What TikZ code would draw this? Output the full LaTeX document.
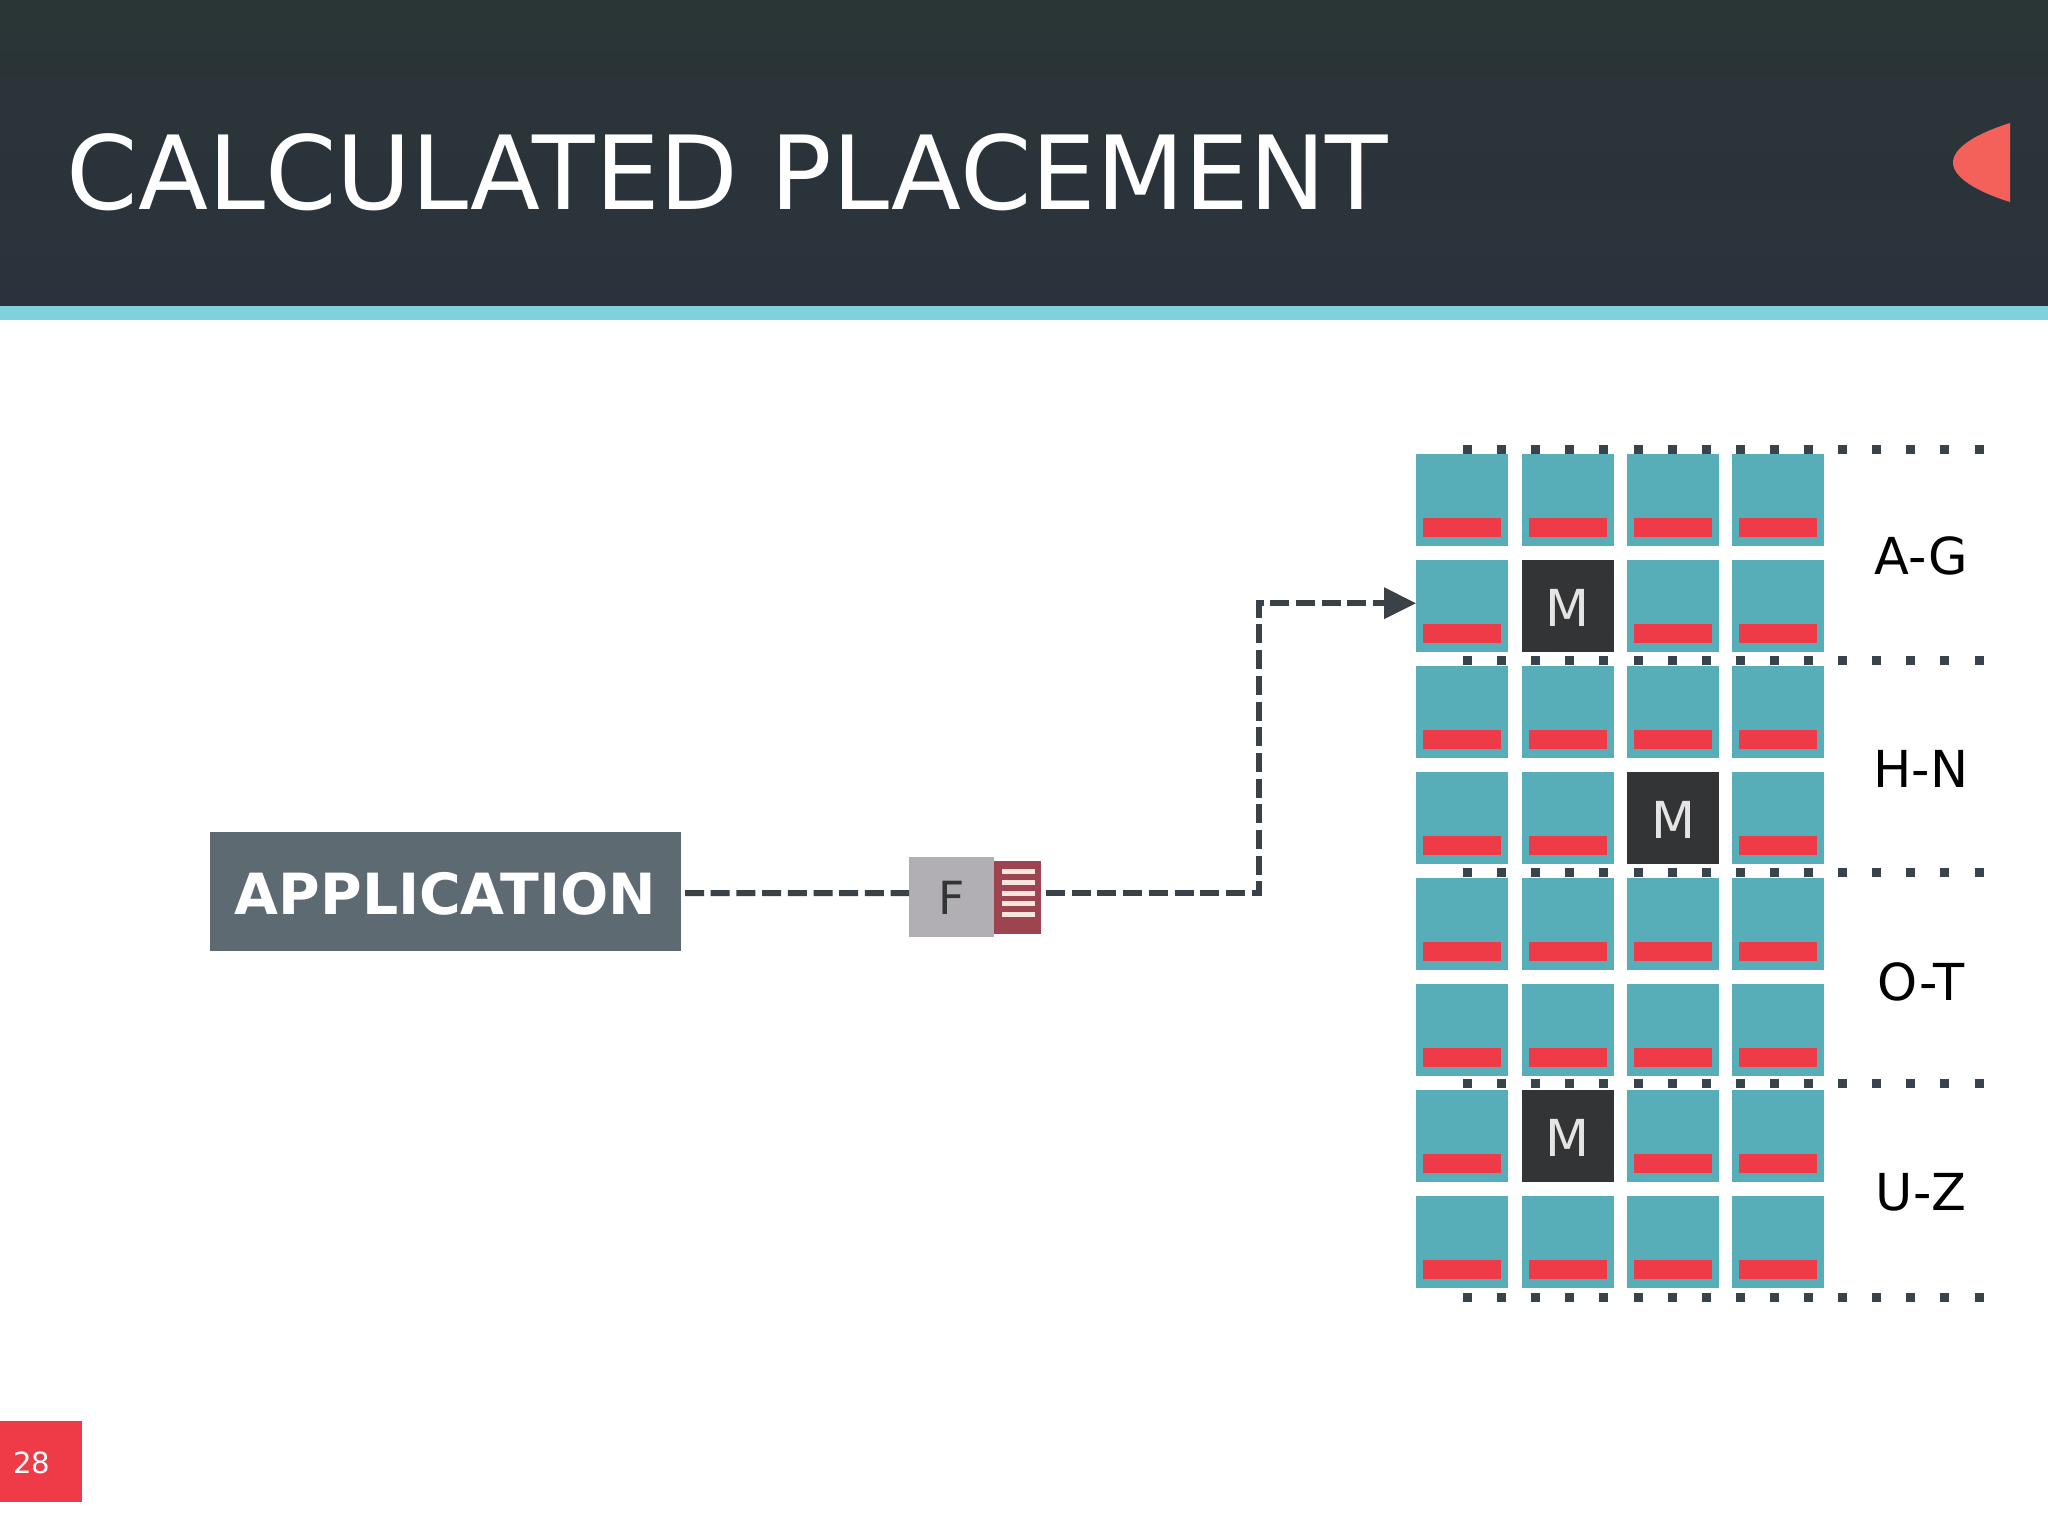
\documentclass[tikz,border=0pt]{standalone}
\usepackage{fontspec}
\setmainfont{DejaVu Sans}
\usepackage{xcolor}
\usetikzlibrary{matrix,arrows.meta,calc}
\definecolor{headtop}{HTML}{2A3536}
\definecolor{headmid}{HTML}{2B3538}
\definecolor{headbot}{HTML}{2C323D}
\definecolor{bandblue}{HTML}{7FD1DB}
\definecolor{cellteal}{HTML}{57AEB9}
\definecolor{barred}{HTML}{EF3B47}
\definecolor{mdark}{HTML}{333436}
\definecolor{appgrey}{HTML}{5E6A72}
\definecolor{filegrey}{HTML}{B1AFB3}
\definecolor{docred}{HTML}{9E4450}
\definecolor{doclines}{HTML}{F5E5DD}
\definecolor{linedark}{HTML}{3A4247}
\definecolor{dotdark}{HTML}{37444B}
\definecolor{moon}{HTML}{F4605A}

\begin{document}
\begin{tikzpicture} [x=1mm, y=-1mm,
    cell/.style={fill=cellteal,
      path picture={\fill[barred] ([xshift=.7mm,yshift=.9mm]path picture bounding box.south west)
        rectangle ([xshift=-.7mm,yshift=2.8mm]path picture bounding box.south east);}},
    mcell/.style={fill=mdark,text=white!90!black,font=\fontsize{14.5}{14.5}\selectfont,text height=4.1mm,path picture={}},
    rangelbl/.style={font=\fontsize{14.5}{14.5}\selectfont,inner sep=0pt},
    conn/.style={draw=linedark,line width=.6mm,dash pattern=on 1.9mm off .67mm},
    dotline/.style={draw=dotdark,line width=.9mm,dash pattern=on .9mm off 2.51mm}
  ]
  \useasboundingbox (0,0) rectangle (204.8,153.6);
  \fill[top color=headtop,middle color=headmid,bottom color=headbot] (0,0) rectangle (204.8,30.7);
  \fill[bandblue] (0,30.6) rectangle (204.8,32);
  \node (title) [anchor=base west,inner sep=0pt,text=white,font=\fontsize{29.1}{29.1}\selectfont] at (6.6,20.9) {CALCULATED PLACEMENT};
  \fill[moon] (201,12.3) .. controls (197.5,13.4) and (195.3,14.8) .. (195.3,16.25)
    .. controls (195.3,17.7) and (197.5,19.1) .. (201,20.2) -- cycle;
  \node (pagebox) [fill=barred,anchor=north west,minimum width=8.2mm,minimum height=8.1mm,inner sep=0pt,outer sep=0pt] at (0,142.1) {};
  \node (pageno) [text=white,font=\fontsize{8.3}{8.3}\selectfont,inner sep=0pt] at (3.2,146.3) {28};

  % separators first, cells sit on top
  \foreach \y in {44.9,66,87.2,108.3,129.7}
    \draw[dotline] (146.3,\y) -- (199,\y);

  \matrix (m) [
    matrix of nodes
    , nodes in empty cells
    , anchor=north west
    , inner sep=0pt
    , outer sep=0pt
    , row sep=1.41mm
    , column sep=1.34mm
    , nodes={cell,minimum size=9.2mm,inner sep=0pt,outer sep=0pt,anchor=center}
  ] at (141.62,45.36) {
    & & & \\
    & |[mcell]| M & & \\
    & & & \\
    & & |[mcell]| M & \\
    & & & \\
    & & & \\
    & |[mcell]| M & & \\
    & & & \\
  };

  \node (ag) [rangelbl] at (192.1,55.6) {A-G};
  \node (hn) [rangelbl] at (192.1,76.9) {H-N};
  \node (ot) [rangelbl] at (192.1,98.2) {O-T};
  \node (uz) [rangelbl] at (192.1,119.2) {U-Z};

  \node (app) [fill=appgrey,text=white,font=\fontsize{16.15}{16.15}\selectfont\bfseries,minimum width=47.1mm,minimum height=11.9mm,inner sep=0pt,outer sep=0pt,text height=4.75mm] at (44.55,89.15) {APPLICATION};
  \node (file) [fill=filegrey,text=mdark,font=\fontsize{13}{13}\selectfont,minimum width=8.5mm,minimum height=8mm,inner sep=0pt,outer sep=0pt,text height=3.5mm] at (95.15,89.7) {F};
  \node (doc) [fill=docred,minimum width=4.7mm,minimum height=7.3mm,inner sep=0pt,outer sep=0pt,anchor=west] at (file.east) {};
  \foreach \y in {87.1,88.2,89.3,90.3,91.4}
    \draw[doclines,line width=.5mm] (100.2,\y) -- (103.5,\y);

  \coordinate (elbow) at (125.9,89.3);
  \path[conn]
  ($(app.east)+(.4,.15)$) edge (file.west |- elbow)
  ;
  \draw[conn,-{Triangle[length=3.2mm,width=3mm]}]
  (104.6,89.3) -- (elbow) |- ($(m-2-1.west)+(0,-.25)$)
  ;
\end{tikzpicture}
\end{document}
